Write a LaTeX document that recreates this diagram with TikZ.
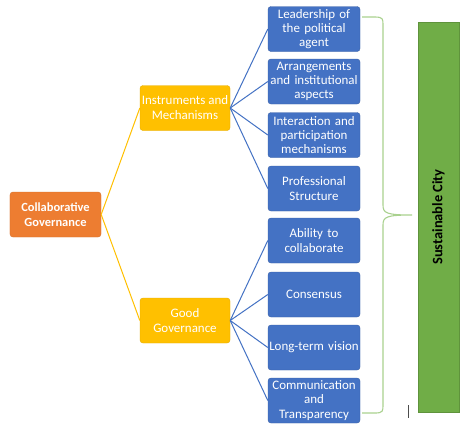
\documentclass[tikz,border=0pt]{standalone}
\usepackage{fontspec}
\setmainfont{Carlito}
\definecolor{corange}{HTML}{ED7D31}
\definecolor{cgold}{HTML}{FFC000}
\definecolor{cblue}{HTML}{4472C4}
\definecolor{cgreen}{HTML}{70AD47}
\definecolor{cbrace}{HTML}{A9D18E}
\begin{document}
\begin{tikzpicture}[x=1bp,y=-1bp,
  box/.style={rounded corners=3bp,align=center,text=white,font=\fontsize{13}{14.2}\selectfont,inner sep=0bp},
  orangebox/.style={box,fill=corange,draw=corange!90!black,line width=0.4bp,minimum width=91bp,minimum height=45bp,font=\bfseries\fontsize{12.5}{15}\selectfont},
  goldbox/.style={box,fill=cgold,draw=cgold!90!black,line width=0.4bp,minimum width=90bp,minimum height=45bp,font=\fontsize{13}{15}\selectfont},
  bluebox/.style={box,fill=cblue,draw=cblue!85!black,line width=0.4bp,minimum width=92bp,minimum height=45bp,text width=92bp},
  goldline/.style={draw=cgold,line width=1bp},
  blueline/.style={draw=cblue,line width=1bp},
  braceline/.style={draw=cbrace,line width=1.1bp}]
\useasboundingbox (0,0) rectangle (474,431);
\fill[white] (0,0) rectangle (474,431);
% main nodes
\node[orangebox] (cg) at (55.5,214.5) {Collaborative\\Governance};
\node[goldbox] (im) at (185,108) {Instruments and\\Mechanisms};
\node[goldbox] (gg) at (185,320.5) {Good\\Governance};
% blue boxes
\node[bluebox] (b1) at (314,29) {Leadership of\\the political\\agent};
\node[bluebox] (b2) at (314,81.5) {Arrangements\\and institutional\\aspects};
\node[bluebox] (b3) at (314,135) {Interaction and\\participation\\mechanisms};
\node[bluebox] (b4) at (314,188.5) {Professional\\Structure};
\node[bluebox] (b5) at (314,240.5) {Ability to\\collaborate};
\node[bluebox] (b6) at (314,294.5) {Consensus};
\node[bluebox] (b7) at (314,347.5) {Long-term vision};
\node[bluebox] (b8) at (314,400.5) {Communication\\and\\Transparency};
% green bar
\node[fill=cgreen,draw=cgreen!85!black,line width=0.5bp,minimum width=41bp,minimum height=390bp,inner sep=0pt] (sc) at (438.5,217) {};
\node[rotate=90,font=\bfseries\fontsize{14.5}{16}\selectfont,text=black] (sct) at (sc.center) {Sustainable City};
% connectors
\draw[goldline] (cg.east) -- (im.west);
\draw[goldline] (cg.east) -- (gg.west);
\foreach \b in {b1,b2,b3,b4} \draw[blueline] (im.east) -- (\b.west);
\foreach \b in {b5,b6,b7,b8} \draw[blueline] (gg.east) -- (\b.west);
% brace
\coordinate (bt) at (362,17);
\coordinate (bb) at (362,413);
\coordinate (bm) at (412,215);
\draw[braceline] (bt) -- (375,17) .. controls (383,17) and (383,19) .. (383,25)
  -- (383,205) .. controls (383,213) and (386,215) .. (bm)
  .. controls (386,215) and (383,217) .. (383,225)
  -- (383,405) .. controls (383,411) and (383,413) .. (375,413) -- (bb);
% small tick
\coordinate (t1) at (408,405);
\coordinate (t2) at (408,418);
\draw[black!70,line width=0.8bp] (t1) -- (t2);
\end{tikzpicture}
\end{document}
